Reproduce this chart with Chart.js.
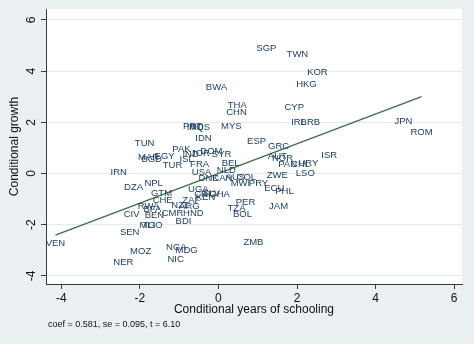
<!DOCTYPE html>
<html>
<head>
<meta charset="utf-8">
<script src="https://cdn.jsdelivr.net/npm/chart.js@4.4.1/dist/chart.umd.min.js"></script>
<style>
  html, body { margin: 0; padding: 0; background: #eaeff2; }
  #wrap { width: 474px; height: 344px; }
</style>
</head>
<body>
<div id="wrap"><canvas id="avplot" width="474" height="344"></canvas></div>
<script>
// added-variable plot: growth vs schooling, country codes as markers
const codes = ['SGP','TWN','KOR','HKG','BWA','THA','CHN','CYP','JPN','ROM',
  'PRT','IRQ','MUS','MYS','IRL','BRB','IDN','ESP','GRC','TUN',
  'PAK','IND','JOR','DOM','SYR','BEL','MAR','BGD','EGY','ISL',
  'TUR','FRA','ISR','AUT','NOR','PAN','CHL','URY','LSO','ZWE',
  'IRN','USA','NLD','DNK','CAN','AUS','COL','MWI','PRY','ECU',
  'PHL','DZA','NPL','GTM','UGA','CRI','SLV','GHA','KEN','ZAF',
  'CHE','NZL','ARG','PER','TZA','BOL','JAM','RWA','BFA','BEN',
  'CMR','HND','CIV','MLI','TGO','BDI','SEN','ZMB','VEN','NGA',
  'MDG','MOZ','NIC','NER'];
const schooling = [1.22, 2.01, 2.52, 2.24, -0.05, 0.48, 0.46, 1.93, 4.71, 5.17,
  -0.66, -0.59, -0.48, 0.33, 2.04, 2.34, -0.38, 0.97, 1.53, -1.88,
  -0.94, -0.71, -0.46, -0.18, 0.08, 0.31, -1.78, -1.70, -1.37, -0.81,
  -1.17, -0.48, 2.82, 1.50, 1.63, 1.76, 2.09, 2.29, 2.21, 1.50,
  -2.54, -0.43, 0.20, -0.25, 0.10, 0.43, 0.71, 0.56, 1.02, 1.42,
  1.68, -2.16, -1.65, -1.45, -0.51, -0.41, -0.18, 0.03, -0.33, -0.69,
  -1.42, -0.97, -0.74, 0.69, 0.46, 0.61, 1.53, -1.78, -1.68, -1.63,
  -1.17, -0.64, -2.21, -1.81, -1.68, -0.89, -2.26, 0.89, -4.15, -1.07,
  -0.81, -1.98, -1.09, -2.42];
const growth = [4.90, 4.67, 3.96, 3.50, 3.38, 2.68, 2.40, 2.60, 2.05, 1.62,
  1.86, 1.82, 1.82, 1.86, 2.01, 2.01, 1.39, 1.27, 1.07, 1.19,
  0.96, 0.76, 0.80, 0.88, 0.76, 0.41, 0.64, 0.57, 0.68, 0.57,
  0.33, 0.37, 0.72, 0.68, 0.61, 0.37, 0.37, 0.41, 0.02, -0.06,
  0.06, 0.06, 0.14, -0.21, -0.18, -0.14, -0.14, -0.37, -0.37, -0.57,
  -0.68, -0.53, -0.37, -0.76, -0.61, -0.80, -0.76, -0.80, -0.92, -1.04,
  -1.07, -1.23, -1.27, -1.11, -1.35, -1.58, -1.27, -1.27, -1.39, -1.62,
  -1.54, -1.54, -1.58, -2.01, -2.01, -1.89, -2.29, -2.68, -2.75, -2.87,
  -2.99, -3.03, -3.34, -3.46];

const xTicks = [-4, -2, 0, 2, 4, 6];
const yTicks = [-4, -2, 0, 2, 4, 6];

const COEF = 0.581;
const noteText = 'coef = 0.581, se = 0.095, t = 6.10';

const FONT = '"Liberation Sans", Arial, sans-serif';
const LABEL_COLOR = '#1d3e64';
const AXIS_COLOR = '#3a3a3a';

const points = codes.map((c, i) => ({ x: schooling[i], y: growth[i] }));
const xMin = Math.min(...schooling), xMax = Math.max(...schooling);
const fitLine = [{ x: xMin, y: COEF * xMin }, { x: xMax, y: COEF * xMax }];

// country codes centred on each (invisible) point
const codeLabels = {
  id: 'codeLabels',
  afterDatasetsDraw(chart) {
    const { ctx } = chart;
    const meta = chart.getDatasetMeta(0);
    ctx.save();
    ctx.font = '9.5px ' + FONT;
    ctx.fillStyle = LABEL_COLOR;
    ctx.textAlign = 'center';
    ctx.textBaseline = 'middle';
    meta.data.forEach((pt, i) => ctx.fillText(codes[i], pt.x, pt.y));
    ctx.restore();
  }
};

// white plot region, vertical y tick labels, titles and the note
const frame = {
  id: 'frame',
  beforeDraw(chart) {
    const { ctx, chartArea: a } = chart;
    ctx.save();
    ctx.fillStyle = '#eaeff2';
    ctx.fillRect(0, 0, chart.width, chart.height);
    ctx.fillStyle = '#ffffff';
    ctx.fillRect(a.left, a.top, a.right - a.left, a.bottom - a.top);
    ctx.restore();
  },
  afterDraw(chart) {
    const { ctx, chartArea: a } = chart;
    const ys = chart.scales.y;
    ctx.save();
    ctx.fillStyle = '#111';
    ctx.font = '12px ' + FONT;
    ctx.textAlign = 'center';
    ctx.textBaseline = 'middle';
    yTicks.forEach(v => {
      ctx.save();
      ctx.translate(32, ys.getPixelForValue(v));
      ctx.rotate(-Math.PI / 2);
      ctx.fillText(String(v), 0, 0);
      ctx.restore();
    });
    ctx.save();
    ctx.translate(15, (a.top + a.bottom) / 2);
    ctx.rotate(-Math.PI / 2);
    ctx.fillText('Conditional growth', 0, 0);
    ctx.restore();

    ctx.textBaseline = 'alphabetic';
    ctx.fillText('Conditional years of schooling', (a.left + a.right) / 2, 313);

    ctx.font = '9px ' + FONT;
    ctx.textAlign = 'left';
    ctx.fillText(noteText, 48, 327);
    ctx.restore();
  }
};

new Chart(document.getElementById('avplot'), {
  type: 'scatter',
  data: {
    datasets: [
      { data: points, pointRadius: 0, pointHoverRadius: 0 },
      { data: fitLine, showLine: true, pointRadius: 0, borderColor: '#3c6f52', borderWidth: 1.4, fill: false }
    ]
  },
  options: {
    responsive: false,
    animation: false,
    events: [],
    layout: { padding: { top: 9, right: 12, left: 0, bottom: 0 } },
    plugins: { legend: { display: false }, tooltip: { enabled: false } },
    scales: {
      x: {
        type: 'linear',
        min: -4.39,
        max: 6.2,
        afterBuildTicks: s => { s.ticks = xTicks.map(v => ({ value: v })); },
        afterFit: s => { s.height = 60; },
        border: { display: true, color: AXIS_COLOR, width: 1 },
        grid: { drawOnChartArea: false, drawTicks: true, tickLength: 5, tickColor: AXIS_COLOR },
        ticks: { color: '#111', font: { family: FONT, size: 12 }, padding: 2, maxRotation: 0 }
      },
      y: {
        type: 'linear',
        min: -4.32,
        max: 6.43,
        afterBuildTicks: s => { s.ticks = yTicks.map(v => ({ value: v })); },
        afterFit: s => { s.width = 46; },
        border: { display: true, color: AXIS_COLOR, width: 1 },
        grid: { color: '#e4ebef', lineWidth: 1, drawTicks: true, tickLength: 5, tickColor: AXIS_COLOR },
        ticks: { display: false }
      }
    }
  },
  plugins: [frame, codeLabels]
});
</script>
</body>
</html>
